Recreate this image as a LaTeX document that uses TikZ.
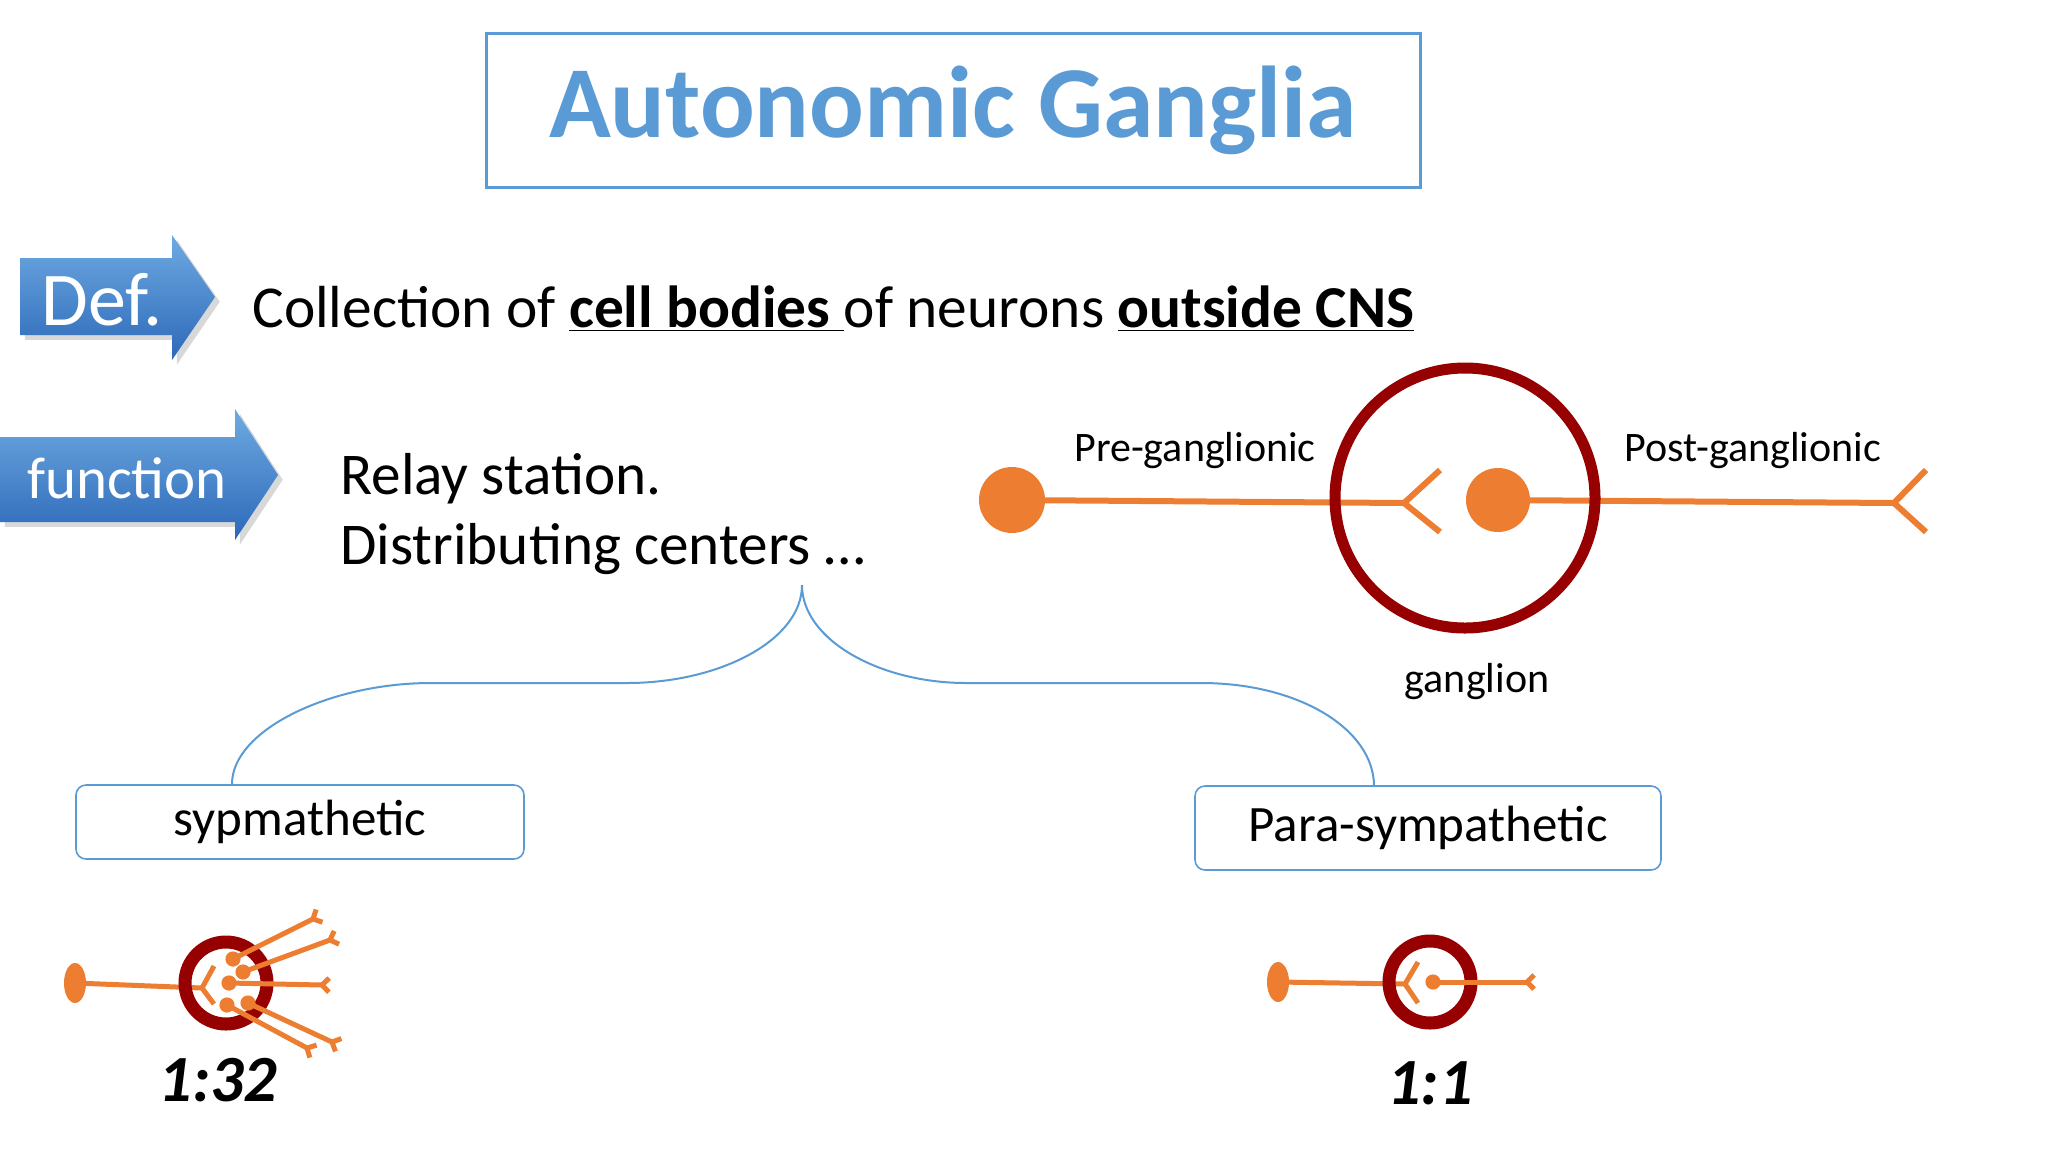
\documentclass[tikz,border=0pt]{standalone}
\usepackage{fontspec}
\setmainfont{Carlito}
\usetikzlibrary{calc,shadows}
\definecolor{org}{RGB}{237,125,49}
\definecolor{gred}{RGB}{150,0,0}
\definecolor{tblue}{RGB}{91,155,213}
\definecolor{lblue}{RGB}{110,170,225}
\definecolor{dblue}{RGB}{45,105,185}
\newcommand\mybranch[2]{%
  \draw[sax] (#1) -- (#2);
  \draw[sax] (#2) -- ($(#2)!5pt!135:(#1)$) (#2) -- ($(#2)!5pt!-135:(#1)$);
  \fill[org] (#1) circle (3.8pt);}
\begin{document}
\begin{tikzpicture}[x=0.5pt,y=-0.5pt,
  axon/.style={org,line width=3pt},
  sax/.style={org,line width=2.5pt},
  gang/.style={gred,line width=#1},
  lbl/.style={font=\fontsize{21}{24}\selectfont,inner sep=0},
  bbox/.style={draw=tblue,line width=0.8pt,rounded corners=5pt},
  brace/.style={tblue,line width=1pt},
  ratio/.style={font=\fontsize{33}{36}\selectfont\bfseries\itshape,inner sep=0}]
\useasboundingbox (0,0) rectangle (2048,1152);
\fill[white] (0,0) rectangle (2048,1152);
% title
\node[draw=tblue,line width=1.5pt,minimum width=467pt,minimum height=77pt,text=tblue,font=\fontsize{51}{55}\selectfont\bfseries] (title) at (953,110) {Autonomic Ganglia};
% Def arrow
\shade[top color=lblue,bottom color=dblue,drop shadow={opacity=0.3}] (20,258) -- (172,258) -- (172,235) -- (215,297) -- (172,360) -- (172,335) -- (20,335) -- cycle;
\node[text=white,font=\fontsize{38}{40}\selectfont,anchor=center] (def) at (102,300) {Def.};
\node[anchor=base west,inner sep=0,font=\fontsize{29.7}{33}\selectfont] (deftext) at (252,327) {Collection of \underline{\textbf{cell bodies }}of neurons \underline{\textbf{outside CNS}}};
% function arrow
\shade[top color=lblue,bottom color=dblue,drop shadow={opacity=0.3}] (0,437) -- (235,437) -- (235,409) -- (278,475) -- (235,540) -- (235,522) -- (0,522) -- cycle;
\node[text=white,font=\fontsize{29.5}{32}\selectfont,anchor=west] (func) at (20,478) {function};
\node[anchor=base west,inner sep=0,font=\fontsize{29.6}{33}\selectfont] (relay) at (340,494) {Relay station.};
\node[anchor=base west,inner sep=0,font=\fontsize{29.6}{33}\selectfont] (distr) at (340,564) {Distributing centers …};
% neuron diagram
\coordinate (s1) at (1012,500);
\coordinate (j1) at (1404,503);
\coordinate (s2) at (1498,500);
\coordinate (j2) at (1894,503);
\draw[axon] (s1) -- (j1);
\draw[axon] (j1) -- (1440,470) (j1) -- (1440,532);
\draw[axon] (s2) -- (j2);
\draw[axon] (j2) -- (1926,470) (j2) -- (1926,532);
\fill[org] (s1) circle (16.5pt);
\fill[org] (s2) circle (16pt);
\draw[gang=5.5pt] (1465,498) circle (130);
\node[lbl] (pre) at (1195,451) {Pre-ganglionic};
\node[lbl] (post) at (1753,451) {Post-ganglionic};
\node[lbl] (gl) at (1477,682) {ganglion};
% braces
\coordinate (bt) at (802,585);
\draw[brace] (bt) .. controls (802,640) and (720,683) .. (627,683) -- (431,683) .. controls (330,683) and (232,730) .. (232,784);
\draw[brace] (bt) .. controls (802,640) and (880,683) .. (966,683) -- (1201,683) .. controls (1300,683) and (1374,730) .. (1374,786);
% boxes
\node[bbox,minimum width=224pt,minimum height=37pt,font=\fontsize{25.5}{28}\selectfont] (symp) at (300,822) {sypmathetic};
\node[bbox,minimum width=233pt,minimum height=42pt,font=\fontsize{25.5}{28}\selectfont] (para) at (1428,828) {Para-sympathetic};
% sympathetic icon
\coordinate (e1) at (75,983);
\coordinate (f1) at (202,988);
\draw[sax] (e1) -- (f1);
\draw[sax] (f1) -- (214,966) (f1) -- (214,1004);
\fill[org] (e1) ellipse (5.5pt and 10pt);
\draw[gang=6.5pt] (226,983) circle (41);
\coordinate (d1) at (233,959); \coordinate (t1) at (313,919);
\coordinate (d2) at (243,972); \coordinate (t2) at (330,940);
\coordinate (d3) at (229,983); \coordinate (t3) at (322,985);
\coordinate (d4) at (227,1005); \coordinate (t4) at (307,1048);
\coordinate (d5) at (248,1003); \coordinate (t5) at (332,1042);
\mybranch{d1}{t1}\mybranch{d2}{t2}\mybranch{d3}{t3}\mybranch{d4}{t4}\mybranch{d5}{t5}
\node[ratio] (r1) at (218,1080) {1:32};
% para icon
\coordinate (e2) at (1278,982);
\coordinate (f2) at (1405,984);
\draw[sax] (e2) -- (f2);
\draw[sax] (f2) -- (1418,962) (f2) -- (1418,1003);
\fill[org] (e2) ellipse (5.5pt and 10pt);
\draw[gang=6.5pt] (1430,982) circle (41);
\coordinate (pd) at (1433,982);
\coordinate (pt) at (1527,982);
\mybranch{pd}{pt}
\node[ratio] (r2) at (1430,1083) {1:1};
\end{tikzpicture}
\end{document}
